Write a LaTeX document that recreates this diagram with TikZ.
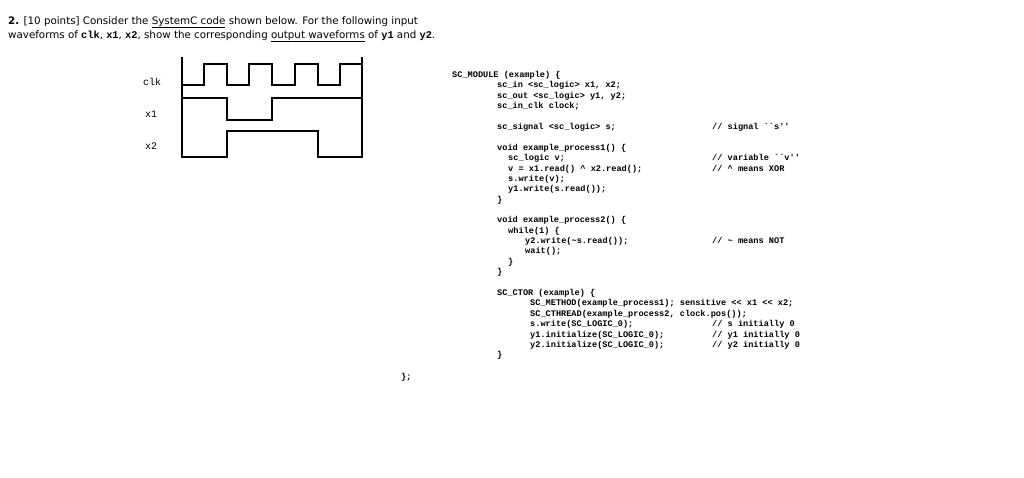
\documentclass[tikz,border=0pt]{standalone}
\usepackage{fontspec}
\setmainfont{DejaVu Sans}
\newfontfamily\codefont{Liberation Mono}
\begin{document}
\begin{tikzpicture}[x=1pt,y=-1pt,
  code/.style={anchor=base west,inner sep=0pt,font=\codefont\bfseries\fontsize{8.6}{10}\selectfont},
  lbl/.style={anchor=base west,inner sep=0pt,font=\codefont\fontsize{10}{12}\selectfont},
  ttl/.style={anchor=base west,inner sep=0pt,font=\fontsize{10.3}{12}\selectfont},
  wave/.style={line width=1.3pt},
  bar/.style={line width=2.6pt}]
\useasboundingbox (0,0) rectangle (1024,477);
\newcommand\tc[1]{{\codefont\bfseries #1}}
\node[ttl] (t1) at (8,24) {\textbf{2.} [10 points]  Consider the \underline{SystemC code} shown below.  For the following input};
\node[ttl] (t2) at (8,38) {waveforms of \tc{clk}, \tc{x1}, \tc{x2}, show the corresponding \underline{output waveforms} of \tc{y1} and \tc{y2}.};
% waveforms
\node[lbl] (lclk) at (143,85) {clk};
\node[lbl] (lx1) at (145,117) {x1};
\node[lbl] (lx2) at (145,149) {x2};
\draw[bar] (182,57) -- (182,158);
\draw[bar] (362,57) -- (362,158);
\draw[wave] (182,85) -- (204,85) -- (204,64) -- (227,64) -- (227,85) -- (249,85) -- (249,64) -- (272,64) -- (272,85) -- (295,85) -- (295,64) -- (318,64) -- (318,85) -- (340,85) -- (340,64) -- (362,64);
\draw[wave] (182,98) -- (227,98) -- (227,120) -- (272,120) -- (272,98) -- (362,98);
\draw[wave] (182,157) -- (227,157) -- (227,131) -- (318,131) -- (318,157) -- (362,157);
% code
\node[code] (c1) at (452,77) {SC\_MODULE (example) \{};
\node[code] (c2) at (497,87) {sc\_in <sc\_logic> x1, x2;};
\node[code] (c3) at (497,98) {sc\_out <sc\_logic> y1, y2;};
\node[code] (c4) at (497,108) {sc\_in\_clk clock;};
\node[code] (c5) at (497,129) {sc\_signal <sc\_logic> s;};
\node[code] (m5) at (712,129) {// signal ``s''};
\node[code] (c6) at (497,150) {void example\_process1() \{};
\node[code] (c7) at (508,160) {sc\_logic v;};
\node[code] (m7) at (712,160) {// variable ``v''};
\node[code] (c8) at (508,171) {v = x1.read() \^{} x2.read();};
\node[code] (m8) at (712,171) {// \^{} means XOR};
\node[code] (c9) at (508,181) {s.write(v);};
\node[code] (c10) at (508,191) {y1.write(s.read());};
\node[code] (c11) at (497,202) {\}};
\node[code] (c12) at (497,222) {void example\_process2() \{};
\node[code] (c13) at (508,233) {while(1) \{};
\node[code] (c14) at (525,243) {y2.write(\textasciitilde s.read());};
\node[code] (m14) at (712,243) {// \textasciitilde{} means NOT};
\node[code] (c15) at (525,253) {wait();};
\node[code] (c16) at (508,264) {\}};
\node[code] (c17) at (497,274) {\}};
\node[code] (c18) at (497,295) {SC\_CTOR (example) \{};
\node[code] (c19) at (530,305) {SC\_METHOD(example\_process1); sensitive << x1 << x2;};
\node[code] (c20) at (530,316) {SC\_CTHREAD(example\_process2, clock.pos());};
\node[code] (c21) at (530,326) {s.write(SC\_LOGIC\_0);};
\node[code] (m21) at (712,326) {// s initially 0};
\node[code] (c22) at (530,337) {y1.initialize(SC\_LOGIC\_0);};
\node[code] (m22) at (712,337) {// y1 initially 0};
\node[code] (c23) at (530,347) {y2.initialize(SC\_LOGIC\_0);};
\node[code] (m23) at (712,347) {// y2 initially 0};
\node[code] (c24) at (497,357) {\}};
\node[code] (c25) at (401,379) {\};};
\end{tikzpicture}
\end{document}
